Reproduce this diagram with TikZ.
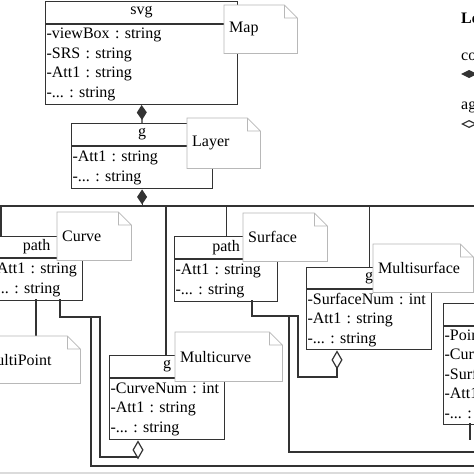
\documentclass[tikz,border=0pt]{standalone}
\usepackage{fontspec}
\setmainfont{Liberation Serif}
\usepackage{tikz}
\usetikzlibrary{arrows.meta,positioning,calc}
\definecolor{linec}{HTML}{333333}
\definecolor{notec}{HTML}{B8B8B8}
\frenchspacing
\begin{document}
\begin{tikzpicture}[x=1pt, y=-1pt,
  font=\fontsize{16}{19.5}\selectfont,
  head/.style={draw=linec, line width=1.2pt, fill=white, inner sep=0pt, minimum height=22pt, anchor=north west},
  body/.style={draw=linec, line width=1.2pt, fill=white, align=left, inner xsep=1pt, inner ysep=0pt},
  note/.style={fill=white, align=left, inner xsep=5pt, inner ysep=0pt, anchor=north west, minimum height=48pt},
  noteline/.style={draw=notec, line width=0.8pt},
  link/.style={draw=linec, line width=1.2pt},
  comp/.style={link, {Diamond[length=15pt, width=10pt]}-},
  aggr/.style={link, {Diamond[open, length=19pt, width=11pt, fill=white]}-}]
  \clip (0,0) rectangle (474,474);
  \fill[white] (0,0) rectangle (474,474);
  \fill[gray!28] (0,471.5) rectangle (474,474);
  % classes
  \node[head, minimum width=192pt] (svgH) at (45,0.6) {svg};
  \node[body, text width=190pt, minimum height=80pt, below=0pt of svgH.south west, anchor=north west] (svgB) {-viewBox : string\\-SRS : string\\-Att1 : string\\-... : string};
  \node[head, minimum width=141pt] (layH) at (71,123) {g};
  \node[body, text width=139pt, minimum height=42pt, below=0pt of layH.south west, anchor=north west] (layB) {-Att1 : string\\-... : string};
  \node[head, minimum width=92pt, minimum height=21pt] (curH) at (-10,236) {path};
  \node[body, text width=90pt, minimum height=42pt, below=0pt of curH.south west, anchor=north west] (curB) {-Att1 : string\\-... : string};
  \node[head, minimum width=103pt] (surH) at (174,236) {path};
  \node[body, text width=101pt, minimum height=42pt, below=0pt of surH.south west, anchor=north west] (surB) {-Att1 : string\\-... : string};
  \node[head, minimum width=125pt, minimum height=21pt] (msurH) at (306,267) {g};
  \node[body, text width=123pt, minimum height=60pt, below=0pt of msurH.south west, anchor=north west] (msurB) {-SurfaceNum : int\\-Att1 : string\\-... : string};
  \node[head, minimum width=115pt] (mcurH) at (109,355) {g};
  \node[body, text width=113pt, minimum height=61pt, below=0pt of mcurH.south west, anchor=north west] (mcurB) {-CurveNum : int\\-Att1 : string\\-... : string};
  \node[head, minimum width=125pt] (mgeoH) at (443,303) {g};
  \node[body, text width=123pt, minimum height=98pt, below=0pt of mgeoH.south west, anchor=north west] (mgeoB) {-PointNum : int\\-CurveNum : int\\-SurfaceNum : int\\-Att1 : string\\-... : string};
  % composition
  \draw[comp] (svgB.south) -- (layH.north);
  \coordinate (busL) at (-5,206);
  \coordinate (busR) at (480,206);
  \draw[link] (busL) -- (busR);
  \draw[comp] (layB.south) -- (layB.south |- busL);
  \draw[link] (1,206) -- (1,236);
  \draw[link] (curH.north -| 36,0) -- (curH.north -| 36,0 |- busL);
  \draw[link] (mcurH.north -| 166,0) -- (166,206);
  \draw[link] (surH.north) -- (surH.north |- busL);
  \draw[link] (msurH.north) -- (msurH.north |- busL);
  % aggregation
  \draw[aggr] (mcurB.south -| 138,0) -- (138,457) -| (100,317) -| (60,299);
  \draw[aggr] (msurB.south -| 337,0) -- (337,377) -| (298,316) -| (252,300);
  \draw[link] (36,299) -- (36,340);
  \draw[link] (91,317) -- (91,466) -- (480,466);
  \draw[link] (289,316) -- (289,452) -- (480,452);
  \draw[link] (470,423) -- (470,440);
  % notes
  \node[note, minimum width=73pt, text width=63pt] (mapN) at (224,5) {Map};
  \node[note, minimum width=73pt, text width=63pt, minimum height=50pt] (layN) at (187,118) {Layer};
  \node[note, minimum width=74pt, text width=64pt] (curN) at (57,212) {Curve};
  \node[note, minimum width=84pt, text width=74pt] (surN) at (243,213) {Surface};
  \node[note, minimum width=100pt, text width=90pt] (msurN) at (373,244) {Multisurface};
  \node[note, minimum width=107pt, text width=97pt, minimum height=49pt] (mcurN) at (175,332) {Multicurve};
  \node[note, minimum width=120pt, text width=110pt, minimum height=47pt] (mptN) at (-40,336) {\hspace{17pt}MultiPoint};
  \foreach \n in {mapN,layN,curN,surN,msurN,mcurN,mptN}
    \draw[noteline] (\n.north west) -- ([xshift=-13pt]\n.north east) -- ([yshift=-13pt]\n.north east) -- (\n.south east) -- (\n.south west) -- cycle
      ([xshift=-13pt]\n.north east) |- ([yshift=-13pt]\n.north east);
  % legend
  \node[anchor=west, inner sep=0pt, font=\fontsize{16}{19.5}\selectfont\bfseries] (legT) at (461,20) {Legend};
  \node[anchor=west, inner sep=0pt] (legC) at (461,57) {composition};
  \coordinate (legCa) at (461,74);
  \coordinate (legCb) at (520,74);
  \draw[link, {Diamond[length=16pt, width=8pt]}-] (legCa) -- (legCb);
  \node[anchor=west, inner sep=0pt] (legA) at (461,106) {aggregation};
  \coordinate (legAa) at (461,124);
  \coordinate (legAb) at (520,124);
  \draw[link, {Diamond[open, length=16pt, width=8pt]}-] (legAa) -- (legAb);
\end{tikzpicture}
\end{document}
